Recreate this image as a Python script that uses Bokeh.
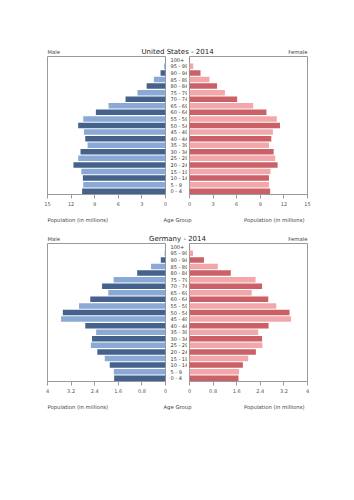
from bokeh.plotting import figure
from bokeh.layouts import column, row
from bokeh.models import Range1d, FactorRange, FixedTicker, CustomJSTickFormatter, ColumnDataSource
from bokeh.core.properties import value
from bokeh.embed import file_html
from bokeh.resources import INLINE

# ---------------- data ----------------
age_groups = ["0 - 4", "5 - 9", "10 - 14", "15 - 19", "20 - 24", "25 - 29", "30 - 34",
              "35 - 39", "40 - 44", "45 - 49", "50 - 54", "55 - 59", "60 - 64", "65 - 69",
              "70 - 74", "75 - 79", "80 - 84", "85 - 89", "90 - 94", "95 - 99", "100+"]

us_title = "United States - 2014"
us_male = [10.6, 10.46, 10.5, 10.7, 11.7, 11.1, 10.8, 9.9, 10.2, 10.37, 11.1, 10.46,
           8.85, 7.24, 5.08, 3.56, 2.4, 1.48, 0.63, 0.17, 0.03]
us_female = [10.25, 10.1, 10.1, 10.3, 11.2, 10.9, 10.7, 10.1, 10.4, 10.6, 11.5, 11.1,
             9.78, 8.09, 6.06, 4.5, 3.5, 2.54, 1.4, 0.47, 0.07]
us_ticks = [0, 3, 6, 9, 12, 15]

de_title = "Germany - 2014"
de_male = [1.74, 1.75, 1.89, 2.06, 2.31, 2.53, 2.49, 2.35, 2.72, 3.54, 3.48, 2.93,
           2.55, 1.94, 2.15, 1.76, 0.96, 0.49, 0.16, 0.03, 0.003]
de_female = [1.66, 1.68, 1.81, 1.99, 2.25, 2.47, 2.46, 2.33, 2.68, 3.44, 3.39, 2.94,
             2.67, 2.11, 2.46, 2.24, 1.40, 0.96, 0.49, 0.12, 0.02]
de_ticks = [0, 0.8, 1.6, 2.4, 3.2, 4]

side_labels = ["Male", "Female"]
axis_label = "Population (in millions)"
middle_label = "Age Group"

# ---------------- style ----------------
FONT = "DejaVu Sans"
MALE_COLORS = ("#45628c", "#8aa9d6")
FEMALE_COLORS = ("#cb6166", "#f2a8aa")
FRAME = "#9a9a9a"
W = 354


def blank(width, height, x_range, y_range):
    p = figure(width=width, height=height, x_range=x_range, y_range=y_range,
               x_axis_type=None, y_axis_type=None, output_backend="svg",
               toolbar_location=None, min_border_left=0, min_border_right=0,
               min_border_top=0, min_border_bottom=0, outline_line_color=None)
    p.background_fill_color = "white"
    p.border_fill_color = "white"
    return p


def header(title, h, base):
    p = blank(W, h, Range1d(0, W), Range1d(h, 0))
    p.text(x=[177], y=[base], text=[title], text_font=value(FONT), text_font_size="7px",
           text_align="center", text_baseline="alphabetic", text_color="#222222")
    p.text(x=[47], y=[base], text=[side_labels[0]], text_font=value(FONT), text_font_size="5.3px",
           text_align="left", text_baseline="alphabetic", text_color="#444444")
    p.text(x=[307], y=[base], text=[side_labels[1]], text_font=value(FONT), text_font_size="5.3px",
           text_align="right", text_baseline="alphabetic", text_color="#444444")
    return p


def footer(h, ymid):
    p = blank(W, h, Range1d(0, W), Range1d(h, 0))
    p.text(x=[47], y=[ymid], text=[axis_label], text_font=value(FONT), text_font_size="5.3px",
           text_align="left", text_baseline="middle", text_color="#444444")
    p.text(x=[177], y=[ymid], text=[middle_label], text_font=value(FONT), text_font_size="5.3px",
           text_align="center", text_baseline="middle", text_color="#444444")
    p.text(x=[304], y=[ymid], text=[axis_label], text_font=value(FONT), text_font_size="5.3px",
           text_align="right", text_baseline="middle", text_color="#444444")
    return p


fmt_code = "return (Math.round(tick * 10) / 10).toString();"


def side(values, colors, xmax, ticks, fr, is_male):
    cols = [colors[i % 2] for i in range(len(values))]
    src = ColumnDataSource(dict(age=age_groups, v=values, c=cols))
    if is_male:
        xr = Range1d(xmax, 0)
        lb, rb = 47, 2
    else:
        xr = Range1d(0, xmax)
        lb, rb = 2, 47
    p = figure(width=lb + 118 + rb, height=154, x_range=xr, y_range=fr,
               y_axis_location=None, output_backend="svg", toolbar_location=None,
               min_border_left=lb, min_border_right=rb, min_border_top=0, min_border_bottom=16)
    p.grid.visible = False
    p.outline_line_color = FRAME
    p.outline_line_width = 1
    p.background_fill_color = "white"
    p.border_fill_color = "white"
    p.hbar(y="age", left=0, right="v", height=0.84, fill_color="c", line_color=None, source=src)
    ax = p.xaxis[0]
    ax.ticker = FixedTicker(ticks=ticks)
    ax.formatter = CustomJSTickFormatter(code=fmt_code)
    ax.axis_line_color = FRAME
    ax.major_tick_line_color = FRAME
    ax.major_tick_out = 4
    ax.major_tick_in = 0
    ax.minor_tick_line_color = None
    ax.major_label_text_font = FONT
    ax.major_label_text_font_size = "5px"
    ax.major_label_text_color = "#555555"
    ax.major_label_standoff = 3
    return p


def middle(fr):
    p = figure(width=20, height=154, x_range=Range1d(0, 20), y_range=fr,
               x_axis_type=None, y_axis_type=None, output_backend="svg", toolbar_location=None,
               min_border_left=0, min_border_right=0, min_border_top=0, min_border_bottom=16,
               outline_line_color=None)
    p.border_fill_color = "white"
    p.text(x=[3] * len(age_groups), y=age_groups, text=age_groups, text_font=value(FONT),
           text_font_size="5px", text_align="left", text_baseline="middle", text_color="#333333")
    return p


def block(male, female, xmax, ticks):
    fr = FactorRange(factors=age_groups)
    return row(side(male, MALE_COLORS, xmax, ticks, fr, True), middle(fr),
               side(female, FEMALE_COLORS, xmax, ticks, fr, False))


layout = column(
    header(us_title, 56, 51.3),
    block(us_male, us_female, 15, us_ticks),
    footer(18, 9),
    header(de_title, 15, 10.3),
    block(de_male, de_female, 4, de_ticks),
    footer(103, 9),
)

open("out.html", "w").write(file_html(layout, INLINE))
